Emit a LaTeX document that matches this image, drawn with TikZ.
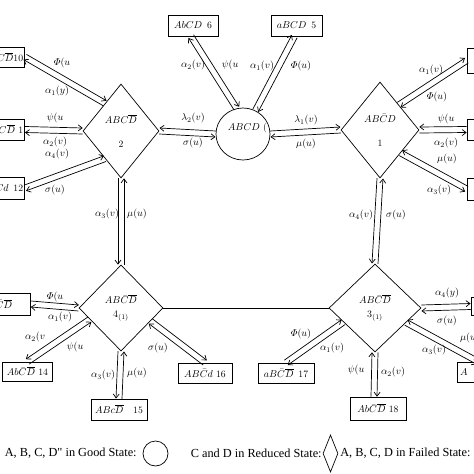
\documentclass[tikz,border=0pt]{standalone}
\usepackage{amsmath}
\usepackage{fontspec}
\newfontfamily\legendfont{Liberation Serif}
\usetikzlibrary{shapes.geometric,arrows.meta,calc}
\newcommand\dblL[2]{%
 \draw[->] ($(#1)!3pt!90:(#2)$) -- ($(#2)!3pt!-90:(#1)$);
 \draw[->] ($(#2)!3pt!90:(#1)$) -- ($(#1)!3pt!-90:(#2)$);}
\newcommand\dblR[2]{%
 \draw[->] ($(#1)!3pt!-90:(#2)$) -- ($(#2)!3pt!90:(#1)$);
 \draw[->] ($(#2)!3pt!-90:(#1)$) -- ($(#1)!3pt!90:(#2)$);}
\begin{document}
\begin{tikzpicture}[x=1pt,y=-1pt,line width=0.7pt,
  >={Straight Barb[length=4pt,width=6pt]},
  box/.style={draw,rectangle,inner sep=0pt,font=\fontsize{9.7}{11}\selectfont},
  dia/.style={draw,diamond,inner sep=0pt,align=center,font=\fontsize{9.7}{11}\selectfont},
  lab/.style={inner sep=0pt,font=\fontsize{10}{12}\selectfont},
  legend/.style={inner sep=0pt,font=\legendfont\fontsize{12.3}{14}\selectfont}]
\useasboundingbox (0,0) rectangle (474,474);
\clip (0,0) rectangle (474,474);

% states
\node[draw,ellipse,inner sep=0pt,minimum width=54pt,minimum height=52pt,font=\fontsize{9.7}{11}\selectfont]
  (c0) at (243,134) {\smash{\makebox[0pt]{\raisebox{4pt}{\hspace{9pt}$ABCD$ (}}}};
\node[dia,minimum width=76pt,minimum height=94pt] (d2) at (121,131) {$ABC\overline{D}$\\[13pt]2};
\node[dia,minimum width=78pt,minimum height=96pt] (d1) at (380,130) {$AB\bar{C}D$\\[13pt]1};
\node[dia,minimum width=84pt,minimum height=86pt] (d4) at (121,308) {$AB\bar{C}\overline{D}$\\[3pt]$4_{(1)}$};
\node[dia,minimum width=92pt,minimum height=88pt] (d3) at (375,308) {$AB\bar{C}\overline{D}$\\[3pt]$3_{(1)}$};

\node[box,minimum width=50pt,minimum height=21pt] (b6) at (193,25.5) {$AbCD$\enspace 6};
\node[box,minimum width=51pt,minimum height=21pt] (b5) at (296.5,25.5) {$aBCD$\enspace 5};

\node[box,anchor=east,minimum height=20pt,text width=58pt,align=right,inner xsep=1.5pt] (b10) at (25,57) {$aBC\overline{D}$10};
\node[box,anchor=east,minimum height=21pt,text width=58pt,align=right,inner xsep=1.5pt] (b11) at (25,129.5) {$AbC\overline{D}$ 1};
\node[box,anchor=east,minimum height=22pt,text width=58pt,align=right,inner xsep=1.5pt] (b12) at (25,188) {$ABCd$\enspace 12};
\node[box,anchor=east,minimum height=22pt,text width=58pt,align=right,inner xsep=1.5pt] (b13) at (31,304) {$aB\bar{C}\overline{D}$\rule{17pt}{0pt}};
\node[box,minimum width=50pt,minimum height=19pt] (b14) at (27.5,371.5) {$Ab\bar{C}\overline{D}$ 14};
\node[box,minimum width=56pt,minimum height=21pt] (b15) at (119,409.5) {$ABc\overline{D}$\quad 15};
\node[box,minimum width=54pt,minimum height=20pt] (b16) at (205,373) {$AB\bar{C}d$ 16};
\node[box,minimum width=56pt,minimum height=20pt] (b17) at (286,373) {$aB\bar{C}\overline{D}$\enspace 17};
\node[box,minimum width=56pt,minimum height=23pt] (b18) at (378,408.5) {$Ab\bar{C}\overline{D}$ 18};

\node[box,minimum width=54pt,minimum height=25pt] (bTR) at (494,60.5) {};
\node[box,minimum width=54pt,minimum height=21pt] (bMR) at (494,129.5) {};
\node[box,minimum width=54pt,minimum height=22pt] (bLR) at (494,189) {};
\node[box,minimum width=54pt,minimum height=18pt] (bR3) at (498,306.5) {};
\node[box,minimum width=54pt,minimum height=20pt,text width=48pt,align=left,inner xsep=3pt] (bLR3) at (484,372) {$A$};

% helper coordinates
\coordinate (p6) at ([xshift=-2pt]b6.south);
\coordinate (p5) at ([xshift=-2pt]b5.south);
\coordinate (p18) at ([xshift=-4pt]b18.north);
\coordinate (pL3) at ([xshift=-6pt]bLR3.north);

% connectors
\dblL{p6}{c0.104}
\dblL{c0.62}{p5}
\dblR{d2.east}{c0.west}
\dblL{c0.east}{d1.west}
\dblL{d1.53}{bTR.west}
\dblR{d1.east}{bMR.west}
\dblR{d1.312}{bLR.west}
\dblL{b10.east}{d2.120}
\dblL{b11.east}{d2.west}
\dblL{b12.east}{d2.240}
\dblR{d2.south}{d4.north}
\dblR{d1.south}{d3.north}
\dblL{b13.east}{d4.west}
\dblR{b14.north}{d4.200}
\dblR{d4.south}{b15.north}
\dblL{d4.336}{b16.north}
\dblL{b17.north}{d3.204}
\dblL{p18}{d3.south}
\dblL{d3.east}{bR3.west}
\dblR{d3.335}{pL3}
\draw (d4.east) -- (d3.west);

% rate labels
\node[lab] (la1) at (193,65) {$\alpha_2(v)$};
\node[lab] (la2) at (230,65) {$\psi(u$};
\node[lab] (la3) at (262,66) {$\alpha_1(v)$};
\node[lab] (la4) at (301,66) {$\varPhi(u)$};
\node[lab] (la5) at (193,118) {$\lambda_2(v)$};
\node[lab] (la6) at (193,143) {$\sigma(u)$};
\node[lab] (la7) at (306,120) {$\lambda_1(v)$};
\node[lab] (la8) at (306,144) {$\mu(u)$};
\node[lab] (la9) at (431,70) {$\alpha_1(v)$};
\node[lab] (la10) at (437,97) {$\varPhi(u)$};
\node[lab] (la11) at (446,119) {$\psi(u$};
\node[lab] (la12) at (446,143) {$\alpha_2(v)$};
\node[lab] (la13) at (447,159) {$\mu(u)$};
\node[lab] (la14) at (439,190) {$\alpha_3(v)$};
\node[lab] (la15) at (62,63) {$\varPhi(u$};
\node[lab] (la16) at (57,91) {$\alpha_1(y)$};
\node[lab] (la17) at (55,118) {$\psi(u$};
\node[lab] (la18) at (55,142) {$\alpha_2(v)$};
\node[lab] (la19) at (57,154) {$\alpha_4(v)$};
\node[lab] (la20) at (55,190) {$\sigma(u)$};
\node[lab] (la21) at (107,214) {$\alpha_3(v)$};
\node[lab] (la22) at (137,214) {$\mu(u)$};
\node[lab] (la23) at (361,215) {$\alpha_4(v)$};
\node[lab] (la24) at (396,215) {$\sigma(u)$};
\node[lab] (la25) at (55,297) {$\varPhi(u$};
\node[lab] (la26) at (60,317) {$\alpha_1(v)$};
\node[lab] (la27) at (35,337) {$\alpha_2(v$};
\node[lab] (la28) at (75,347) {$\psi(u$};
\node[lab] (la29) at (103,375) {$\alpha_3(v)$};
\node[lab] (la30) at (137,373) {$\mu(u)$};
\node[lab] (la31) at (158,348) {$\sigma(u)$};
\node[lab] (la32) at (301,334) {$\varPhi(u)$};
\node[lab] (la33) at (332,348) {$\alpha_1(v)$};
\node[lab] (la34) at (356,370) {$\psi(u$};
\node[lab] (la35) at (393,372) {$\alpha_2(v)$};
\node[lab] (la36) at (447,293) {$\alpha_4(y)$};
\node[lab] (la37) at (447,321) {$\sigma(u)$};
\node[lab] (la38) at (468,338) {$\mu(u$};
\node[lab] (la39) at (434,350) {$\alpha_3(v)$};

% legend
\node[legend,anchor=east] (lg1) at (137,453) {A, B, C, D" in Good State:};
\node[draw,ellipse,inner sep=0pt,minimum width=25pt,minimum height=25pt] (lge) at (155.5,453.5) {};
\node[legend,anchor=east] (lg2) at (322,453) {C and D in Reduced State:};
\node[draw,diamond,inner sep=0pt,minimum width=15pt,minimum height=37pt] (lgd) at (330.5,453.5) {};
\node[legend,anchor=west] (lg3) at (340,453) {A, B, C, D in Failed State:};
\end{tikzpicture}
\end{document}
